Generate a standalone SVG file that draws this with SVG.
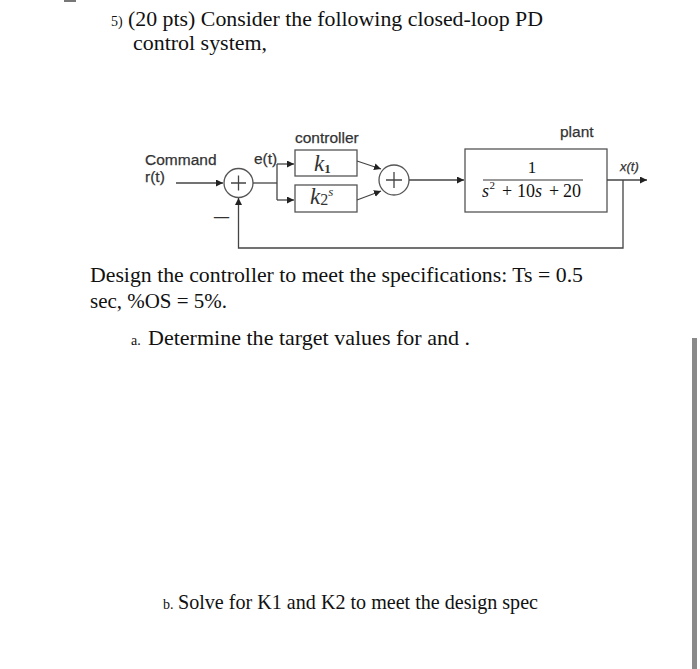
<svg xmlns="http://www.w3.org/2000/svg" width="700" height="669" viewBox="0 0 700 669">
<style>
.t{font-family:"Liberation Serif","Times New Roman",serif;fill:#111;}
.s{font-family:"Liberation Sans",Arial,sans-serif;fill:#333;stroke:#333;stroke-width:0.25;}
.ln{stroke:#444;stroke-width:1.3;fill:none;}
.bx{stroke:#555;stroke-width:1.3;fill:#fff;}
.m{font-family:"Liberation Serif","Times New Roman",serif;fill:#333;font-style:italic;}
</style>
<defs>
<marker id="ah" markerWidth="8" markerHeight="8" refX="7" refY="3.5" orient="auto" markerUnits="userSpaceOnUse">
<path d="M0,0 L7,3.5 L0,7 Z" fill="#222"/>
</marker>
</defs>
<rect width="700" height="669" fill="#fff"/>
<rect x="64" y="0" width="12" height="2" fill="#777"/>
<rect x="692" y="338" width="5" height="331" fill="#8a8a8a"/>

<g id="question">
<text class="t" x="111" y="26" font-size="14">5)</text>
<text class="t" x="128" y="26" font-size="21" textLength="415" lengthAdjust="spacingAndGlyphs">(20 pts) Consider the following closed-loop PD</text>
<text class="t" x="133" y="50" font-size="21" textLength="134" lengthAdjust="spacingAndGlyphs">control system,</text>
<text class="t" x="90" y="282" font-size="22" textLength="493" lengthAdjust="spacingAndGlyphs">Design the controller to meet the specifications: Ts = 0.5</text>
<text class="t" x="90" y="308" font-size="22" textLength="137" lengthAdjust="spacingAndGlyphs">sec, %OS = 5%.</text>
<text class="t" x="131" y="345" font-size="14">a.</text>
<text class="t" x="148" y="345" font-size="22" textLength="322" lengthAdjust="spacingAndGlyphs">Determine the target values for and  .</text>
<text class="t" x="163" y="609" font-size="14">b.</text>
<text class="t" x="178" y="609" font-size="22" textLength="360" lengthAdjust="spacingAndGlyphs">Solve for K1 and K2 to meet the design spec</text>
</g>

<g id="input">
<text class="s" x="145" y="165" font-size="15.5">Command</text>
<text class="s" x="145" y="182" font-size="15.5">r(t)</text>
</g>

<g id="sum1">
<circle cx="238.5" cy="183" r="14.5" class="bx"/>
<path d="M231,183 H246 M238.5,175.5 V190.5" class="ln"/>
<text class="s" x="214" y="221" font-size="15">—</text>
</g>

<g id="error">
<text class="s" x="254" y="164" font-size="15.5">e(t)</text>
</g>

<g id="controller">
<text class="s" x="295" y="143" font-size="15.5">controller</text>
<rect x="295" y="150" width="62" height="26" class="bx"/>
<text class="m" x="314" y="171" font-size="23">k<tspan font-size="13" dy="2" font-style="normal" font-weight="bold">1</tspan></text>
<rect x="295" y="185" width="62" height="27" class="bx"/>
<text class="m" x="310" y="204" font-size="23">k<tspan font-size="16" dy="1" font-style="normal">2</tspan><tspan font-size="13" dy="-9">s</tspan></text>
</g>

<g id="sum2">
<circle cx="394" cy="180" r="15" class="bx"/>
<path d="M386,180 H402 M394,172 V188" class="ln"/>
</g>

<g id="plant">
<text class="s" x="560" y="137" font-size="15.5">plant</text>
<rect x="465" y="149" width="142" height="63" class="bx"/>
<text class="t" x="532" y="173" font-size="17" text-anchor="middle">1</text>
<path d="M483,180 H583" stroke="#333" stroke-width="1"/>
<text class="t" y="197" font-size="18"><tspan x="482" font-style="italic">s</tspan><tspan x="489.5" y="189" font-size="11">2</tspan><tspan x="502" y="197">+</tspan><tspan x="517">10</tspan><tspan font-style="italic">s</tspan><tspan x="549">+</tspan><tspan x="563">20</tspan></text>
</g>

<g id="output">
<text class="s" x="620" y="171" font-size="13" font-style="italic">x(t)</text>
</g>

<g id="connectors">
<path d="M176,183 H223" class="ln" marker-end="url(#ah)"/>
<path d="M253,183 H277" class="ln"/>
<path d="M277,164 V200" class="ln"/>
<path d="M277,164 H294" class="ln" marker-end="url(#ah)"/>
<path d="M277,200 H294" class="ln" marker-end="url(#ah)"/>
<path d="M357,161 L381,169" class="ln" marker-end="url(#ah)"/>
<path d="M357,200 L381,191" class="ln" marker-end="url(#ah)"/>
<path d="M409,180 H464" class="ln" marker-end="url(#ah)"/>
<path d="M607,180 H647" class="ln" marker-end="url(#ah)"/>
<path d="M623,180 V248 H238.5 V198" class="ln" marker-end="url(#ah)"/>
</g>
</svg>
